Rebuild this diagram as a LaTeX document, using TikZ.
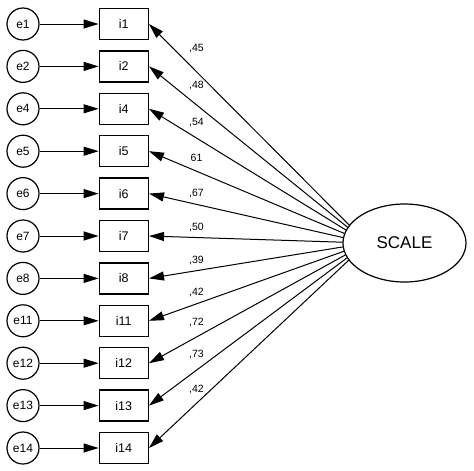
\documentclass[tikz,border=0pt]{standalone}
\usepackage{fontspec}
\setmainfont{Liberation Sans}
\usetikzlibrary{arrows.meta,positioning,shapes.geometric}
\tikzset{
    err/.style={circle, draw, line width=1.2pt, minimum size=32pt, inner sep=0pt,
        font=\fontsize{12}{12}\selectfont},
    obs/.style={rectangle, draw, line width=1.4pt, minimum width=49pt, minimum height=31pt,
        inner sep=0pt, font=\fontsize{12.5}{13}\selectfont},
    latent/.style={ellipse, draw, line width=1.2pt, fill=white, minimum width=123pt,
        minimum height=78pt, font=\fontsize{17}{18}\selectfont},
    lbl/.style={inner sep=0pt, font=\fontsize{10.5}{11}\selectfont},
}
\begin{document}
\begin{tikzpicture}[>={Triangle[length=15pt,width=9pt]}, x=1pt, y=-1pt, line width=1pt]
    \useasboundingbox (0,0) rectangle (474,471);
    % 1. Sai so va bien quan sat
    \foreach \k/\n/\e in {0/1/1, 1/2/2, 2/4/4, 3/5/5, 4/6/6, 5/7/7, 6/8/8, 7/11/11, 8/12/12, 9/13/13, 10/14/14} {
        \node[err] (e\e) at (23, 24+42.4*\k) {e\e};
        \node[obs, right=59pt of e\e] (i\n) {i\n};
        \draw[->] (e\e) -- (i\n);
    }
    % 2. Cac he so tai
    \coordinate (hub) at (367,243);
    \foreach \n/\v/\d in {1/{,45}/22.7, 2/{,48}/18.9, 4/{,54}/15.1, 5/61/13.2, 6/{,67}/10.4,
        7/{,50}/10.5, 8/{,39}/9.7, 11/{,42}/11.8, 12/{,72}/14, 13/{,73}/15.2, 14/{,42}/14.3} {
        \draw[->] (hub) -- (i\n.east) node[lbl, pos=0.782, yshift=\d pt] {\v};
    }
    % 3. Bien tiem an
    \node[latent] (scale) at (404.5,243) {SCALE};
\end{tikzpicture}
\end{document}
